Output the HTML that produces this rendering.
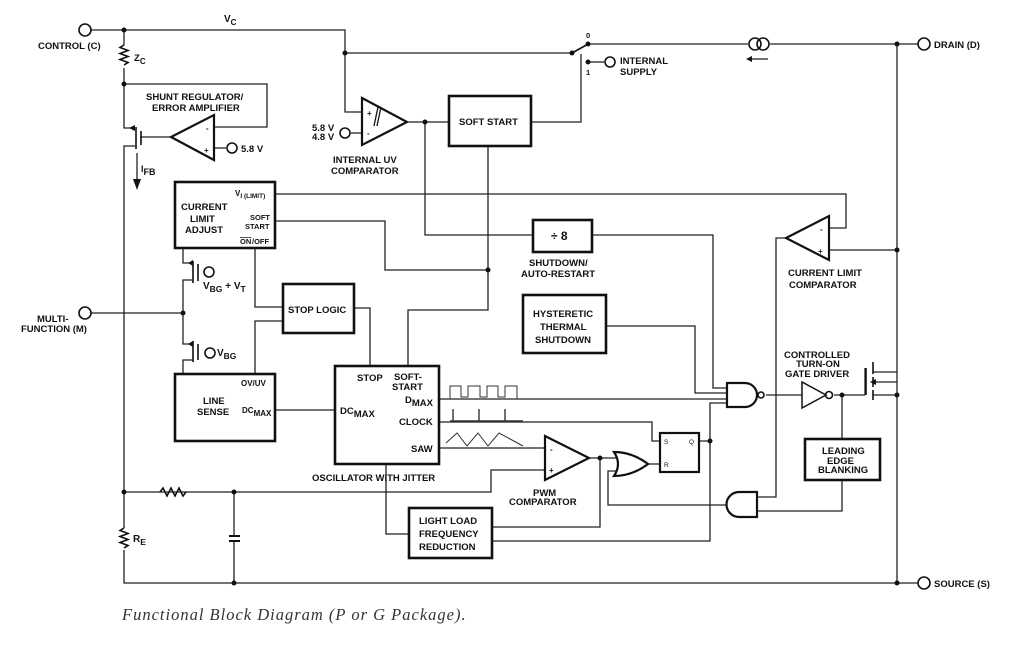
<!DOCTYPE html>
<html><head><style>
body{margin:0;background:#fff;}
svg{display:block;font-family:"Liberation Sans",Arial,sans-serif;font-weight:bold;font-size:9.5px;fill:#111;}
.w{stroke:#222;stroke-width:1.3;fill:none;}
.b{stroke:#111;stroke-width:2.6;fill:#fff;}
.g{stroke:#111;stroke-width:2.2;fill:#fff;}
.t{stroke:#111;stroke-width:1.5;fill:#fff;}
</style></head><body>
<svg width="1016" height="648" viewBox="0 0 1016 648" xmlns="http://www.w3.org/2000/svg">
<g class="w">
<path d="M91 30H345V112H362"/>
<path d="M345 53H572"/>
<path d="M124 30V45M124 68V128H135M135 146H124V165M124 165V528M124 550V583H918"/>
<path d="M124 84H267V127H214"/>
<path d="M171 137H140"/>
<path d="M214 148H226"/>
<path d="M351 133H362"/>
<path d="M407 122H449"/>
<path d="M425 122V235H533"/>
<path d="M531 122H581V54"/>
<path d="M588 44H748M770 44H918"/>
<path d="M588 62H604"/>
<path d="M897 44V583"/>
<path d="M275 194H846V228H829"/>
<path d="M897 250H829"/>
<path d="M786 238H776V497H757"/>
<path d="M592 235H713V388H727"/>
<path d="M606 326H695V393H727"/>
<path d="M439 399H727"/>
<path d="M439 422H652V441H660"/>
<path d="M439 448H545"/>
<path d="M545 470H491V492H124"/>
<path d="M589 458H618"/>
<path d="M648 464H660"/>
<path d="M600 458V527H492"/>
<path d="M699 441H710V403H727"/>
<path d="M710 441V541H492"/>
<path d="M727 505H608V471H618"/>
<path d="M757 511H842V480"/>
<path d="M766 395H802"/>
<path d="M834 395H865"/>
<path d="M842 395V439"/>
<path d="M865 368V395"/>
<path d="M873 372H897M873 395H897M897 382H876"/>
<path d="M275 221H385V270H488"/>
<path d="M488 146V310H408V366"/>
<path d="M255 248V307H283"/>
<path d="M255 374V321H283"/>
<path d="M354 308H370V366"/>
<path d="M275 410H335"/>
<path d="M386 464V534H409"/>
<path d="M91 313H183"/>
<path d="M183 248V263H193M193 280H183V344H193M193 360H183V374"/>
<path d="M234 492V536M234 541V583"/>
<path d="M137 153V180"/>
<path d="M768 59H752"/>
</g>
<g stroke="#111" stroke-width="1.6" fill="none">
<path d="M136 127V149M141 131V145"/>
<path d="M193 261V283M198 264V281"/>
<path d="M193 341V362M198 344V360"/>
<path d="M873 362V374M873 377V387M873 390V400M866 368V395"/>
<path d="M229 536H240M229 541H240" stroke-width="2"/>
<path d="M124 45l-4 2.5 8 3-8 3 8 3-8 3 8 3-4 2.5"/>
<path d="M124 528l-4 2.5 8 3-8 3 8 3-8 3 8 3-4 2.5"/>
<path d="M160 492l3-4 4 8 4-8 4 8 4-8 4 8 3-4"/>
<path d="M572 53L590 43"/>
</g>
<path d="M133 179L137 190L141 179Z" fill="#111"/>
<path d="M752 56L746 59L752 62Z" fill="#111"/>
<path d="M876 379L870 382L876 385Z" fill="#111"/>
<path d="M135 125L129 128L135 131Z" fill="#111"/>
<path d="M193 260L188 263L193 266Z" fill="#111"/>
<path d="M193 341L188 344L193 347Z" fill="#111"/>
<g fill="#111">
<circle cx="124" cy="30" r="2.5"/><circle cx="345" cy="53" r="2.5"/><circle cx="124" cy="84" r="2.5"/>
<circle cx="425" cy="122" r="2.5"/><circle cx="572" cy="53" r="2.5"/><circle cx="588" cy="44" r="2.5"/><circle cx="588" cy="62" r="2.5"/>
<circle cx="897" cy="44" r="2.5"/><circle cx="897" cy="250" r="2.5"/><circle cx="897" cy="395" r="2.5"/><circle cx="897" cy="583" r="2.5"/>
<circle cx="488" cy="270" r="2.5"/><circle cx="183" cy="313" r="2.5"/><circle cx="124" cy="492" r="2.5"/><circle cx="234" cy="492" r="2.5"/><circle cx="234" cy="583" r="2.5"/>
<circle cx="600" cy="458" r="2.5"/><circle cx="710" cy="441" r="2.5"/><circle cx="842" cy="395" r="2.5"/>
</g>
<g stroke="#111" stroke-width="1.6" fill="#fff">
<circle cx="85" cy="30" r="6"/><circle cx="85" cy="313" r="6"/><circle cx="924" cy="44" r="6"/><circle cx="924" cy="583" r="6"/>
<circle cx="610" cy="62" r="5"/><circle cx="232" cy="148" r="5"/><circle cx="345" cy="133" r="5"/>
<circle cx="209" cy="272" r="5"/><circle cx="210" cy="353" r="5"/>
<circle cx="755" cy="44" r="6" fill="none"/><circle cx="763" cy="44" r="6" fill="none"/>
<circle cx="761" cy="395" r="3"/><circle cx="829" cy="395" r="3.5"/>
</g>
<rect class="b" x="175" y="182" width="100" height="66"/>
<rect class="b" x="449" y="96" width="82" height="50"/>
<rect class="b" x="533" y="220" width="59" height="32"/>
<rect class="b" x="523" y="295" width="83" height="58"/>
<rect class="b" x="283" y="284" width="71" height="49"/>
<rect class="b" x="175" y="374" width="100" height="67"/>
<rect class="b" x="335" y="366" width="104" height="98"/>
<rect class="b" x="409" y="508" width="83" height="50"/>
<rect class="b" x="805" y="439" width="75" height="41"/>
<rect class="g" x="660" y="433" width="39" height="39"/>
<path class="g" d="M214 115V160L171 137Z"/>
<path class="g" d="M362 98V145L407 122Z"/>
<path class="g" d="M829 216V260L786 238Z"/>
<path class="g" d="M545 436V480L589 458Z"/>
<path class="t" d="M802 382V408L826 395Z"/>
<path class="g" d="M727 383H745A12 12 0 0 1 745 407H727Z"/>
<path class="g" d="M757 492H739A12.5 12.5 0 0 0 739 517H757Z"/>
<path class="g" d="M614 452Q632 452 648 464Q632 476 614 476Q622 464 614 452Z"/>
<path d="M450 399V386H461V397H468V386H480V397H487V386H498V397H505V386H517V399" stroke="#333" stroke-width="1" fill="none"/>
<path d="M450 421H523M453 421V409M479 421V409M505 421V409" stroke="#333" stroke-width="1.4" fill="none"/>
<path d="M446 443L457 433L467 446L478 433L488 446L499 433L523 446" stroke="#333" stroke-width="1" fill="none"/>
<path d="M374 126L378 107M377 126L381 107" stroke="#111" stroke-width="1.3"/>
<g>
<text x="224" y="22" font-size="10">V<tspan font-size="8" dy="3">C</tspan></text>
<text x="38" y="49">CONTROL (C)</text>
<text x="134" y="61">Z<tspan font-size="8" dy="3">C</tspan></text>
<text x="146" y="100">SHUNT REGULATOR/</text>
<text x="152" y="111">ERROR AMPLIFIER</text>
<text x="206" y="131" font-size="8">-</text><text x="204" y="153" font-size="8">+</text>
<text x="241" y="152">5.8 V</text>
<text x="141" y="172" font-size="9">I<tspan dy="3">FB</tspan></text>
<text x="367" y="116" font-size="8">+</text><text x="367" y="136" font-size="8">-</text>
<text x="312" y="131">5.8 V</text><text x="312" y="140">4.8 V</text>
<text x="333" y="163">INTERNAL UV</text><text x="331" y="174">COMPARATOR</text>
<text x="459" y="125">SOFT START</text>
<text x="586" y="38" font-size="7.5">0</text><text x="586" y="75" font-size="7.5">1</text>
<text x="620" y="64">INTERNAL</text><text x="620" y="75">SUPPLY</text>
<text x="934" y="48">DRAIN (D)</text>
<text x="934" y="587">SOURCE (S)</text>
<text x="181" y="210">CURRENT</text><text x="190" y="222">LIMIT</text><text x="185" y="233">ADJUST</text>
<text x="235" y="196" font-size="8">V<tspan font-size="6.5" dy="2">I (LIMIT)</tspan></text>
<text x="250" y="220" font-size="7.5">SOFT</text><text x="245" y="229" font-size="7.5">START</text>
<text x="240" y="244" font-size="7.5" text-decoration="overline">ON</text><text x="252" y="244" font-size="7.5">/OFF</text>
<text x="551" y="240" font-size="12">÷ 8</text>
<text x="529" y="266">SHUTDOWN/</text><text x="521" y="277">AUTO-RESTART</text>
<text x="533" y="317">HYSTERETIC</text><text x="540" y="330">THERMAL</text><text x="535" y="343">SHUTDOWN</text>
<text x="788" y="276">CURRENT LIMIT</text><text x="789" y="288">COMPARATOR</text>
<text x="820" y="232" font-size="8">-</text><text x="818" y="254" font-size="8">+</text>
<text x="288" y="313">STOP LOGIC</text>
<text x="203" y="289" font-size="10">V<tspan font-size="8.5" dy="3">BG</tspan><tspan dy="-3"> + V</tspan><tspan font-size="8.5" dy="3">T</tspan></text>
<text x="217" y="356" font-size="10">V<tspan font-size="8.5" dy="3">BG</tspan></text>
<text x="37" y="322">MULTI-</text><text x="21" y="332">FUNCTION (M)</text>
<text x="241" y="386" font-size="8">OV/UV</text>
<text x="203" y="404">LINE</text><text x="197" y="415">SENSE</text>
<text x="242" y="413" font-size="8">DC<tspan dy="3">MAX</tspan></text>
<text x="357" y="381">STOP</text><text x="394" y="380">SOFT-</text><text x="392" y="390">START</text>
<text x="405" y="403">D<tspan dy="3">MAX</tspan></text>
<text x="340" y="414">DC<tspan dy="3">MAX</tspan></text>
<text x="399" y="425">CLOCK</text><text x="411" y="452">SAW</text>
<text x="312" y="481">OSCILLATOR WITH JITTER</text>
<text x="550" y="452" font-size="8">-</text><text x="549" y="473" font-size="8">+</text>
<text x="533" y="496">PWM</text><text x="509" y="505">COMPARATOR</text>
<text x="664" y="444" font-size="6.5" font-weight="normal">S</text><text x="664" y="467" font-size="6.5" font-weight="normal">R</text><text x="689" y="444" font-size="6.5" font-weight="normal">Q</text>
<text x="419" y="524">LIGHT LOAD</text><text x="419" y="537">FREQUENCY</text><text x="419" y="550">REDUCTION</text>
<text x="784" y="358">CONTROLLED</text><text x="796" y="367">TURN-ON</text><text x="785" y="377">GATE DRIVER</text>
<text x="822" y="454">LEADING</text><text x="827" y="464">EDGE</text><text x="818" y="473">BLANKING</text>
<text x="133" y="542" font-size="10">R<tspan font-size="8.5" dy="3">E</tspan></text>
</g>
<text x="122" y="620" style="font-family:'Liberation Serif',serif;font-style:italic;font-weight:normal;font-size:16.5px;letter-spacing:1px;fill:#333">Functional Block Diagram (P or G Package).</text>
</svg>
</body></html>
